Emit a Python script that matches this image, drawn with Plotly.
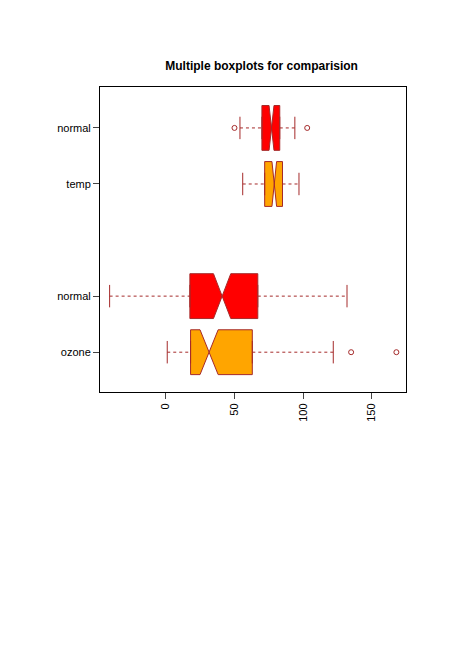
import plotly.graph_objects as go

# box statistics
labels = ["ozone", "normal", "temp", "normal"]
positions = [1, 2, 4, 5]
colors = ["orange", "red", "orange", "red"]
lower = [1, -41, 56, 54]
q1 = [18, 17.5, 72, 70]
median = [31.5, 41, 79, 77]
q3 = [63, 67, 85, 83]
upper = [122, 132, 97, 94]
notch = [6.6, 6.3, 1.7, 1.8]
outlier_x = [135, 168, 50, 103]
outlier_y = [1, 1, 5, 5]

border = "#A52A2A"
fig = go.Figure()

for i in range(len(labels)):
    p = positions[i]
    # dashed whiskers
    for a, b in [(lower[i], q1[i]), (q3[i], upper[i])]:
        fig.add_trace(go.Scatter(x=[a, b], y=[p, p], mode="lines",
                                 line=dict(color=border, width=1, dash="3px,3px"),
                                 showlegend=False, hoverinfo="skip"))
    # whisker caps
    for e in [lower[i], upper[i]]:
        fig.add_trace(go.Scatter(x=[e, e], y=[p - 0.2, p + 0.2], mode="lines",
                                 line=dict(color=border, width=1),
                                 showlegend=False, hoverinfo="skip"))
    fig.add_trace(go.Box(
        y=[p], q1=[q1[i]], median=[median[i]], q3=[q3[i]],
        lowerfence=[q1[i]], upperfence=[q3[i]],
        notched=True, notchspan=[notch[i]], notchwidth=0.5,
        orientation="h", width=0.8, fillcolor=colors[i],
        line=dict(color=border, width=1), name=labels[i], showlegend=False,
    ))

fig.add_trace(go.Scatter(x=outlier_x, y=outlier_y, mode="markers",
                         marker=dict(symbol="circle-open", size=5, color=border),
                         showlegend=False))

fig.update_layout(
    width=474, height=670,
    margin=dict(l=92, r=76, t=79, b=286),
    plot_bgcolor="white", paper_bgcolor="white",
    font=dict(family="Liberation Sans, Arial", size=11, color="black"),
    title=dict(text="<b>Multiple boxplots for comparision</b>", x=0.535, y=0.92,
               xanchor="center", font=dict(size=12)),
)
fig.update_xaxes(range=[-48, 175], tickvals=[0, 50, 100, 150], tickangle=-90,
                 showgrid=False, zeroline=False, ticks="outside", ticklen=6,
                 showline=True, mirror=True, linecolor="black")
fig.update_yaxes(range=[0.29, 5.73], tickvals=positions, ticktext=labels,
                 showgrid=False, zeroline=False, ticks="outside", ticklen=6,
                 showline=True, mirror=True, linecolor="black")

fig.write_html("out.html")
